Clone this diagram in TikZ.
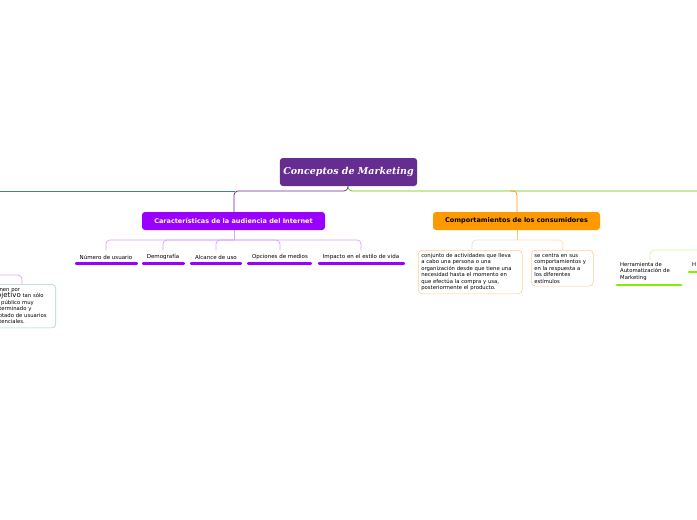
\documentclass[tikz,border=0pt]{standalone}
\usepackage{fontspec}
\setmainfont{DejaVu Sans}
\newfontfamily\titlefont{DejaVu Serif}
\begin{document}
\begin{tikzpicture}[x=1pt,y=-1pt,
  lbl/.style={font=\fontsize{5.5}{6.5}\selectfont,inner sep=0pt},
  ul/.style={line width=2.2pt,line cap=round},
  ln/.style={line width=0.7pt,rounded corners=4pt},
  boxo/.style={draw=orange!40,rounded corners=4pt,fill=white,line width=0.6pt,align=left,text width=#1,font=\fontsize{5.3}{6.5}\selectfont,inner sep=3pt,anchor=north west}]
\useasboundingbox (0,0) rectangle (697,520);
\clip (0,0) rectangle (697,520);
\definecolor{rootc}{HTML}{662D91}
\definecolor{vio}{HTML}{9900FF}
\definecolor{lvio}{HTML}{D9A3FF}
\definecolor{org}{HTML}{FF9900}
\definecolor{grn}{HTML}{80F000}
\definecolor{blu}{HTML}{3C78D8}
% main lines
\draw[line width=1pt,blu] (0,191) -- (235,191);
\draw[ln,rootc!80!violet] (348,186) |- (234,191) -- (234,212);
\draw[ln,grn!80!black] (348,186) |- (697,191);
\draw[ln,org] (510,191) -| (517,212);
% root
\node[fill=rootc,rounded corners=3pt,minimum width=137pt,minimum height=28pt,text=white,font=\titlefont\bfseries\itshape\fontsize{9.5}{11}\selectfont] (root) at (348.5,172) {Conceptos de Marketing};
% purple branch
\node[fill=vio,rounded corners=3pt,minimum width=183pt,minimum height=18pt,text=white,font=\bfseries\fontsize{6.5}{8}\selectfont] (car) at (233.5,221) {Características de la audiencia del Internet};
\draw[ln,lvio] (234,230) -- (234,240);
\draw[ln,lvio] (106,250) |- (361,240) -- (361,250);
\foreach \x in {163,216,280} \draw[ln,lvio] (234,240) -| (\x,250);
\node[lbl] (c1) at (106,257) {Número de usuario};
\node[lbl] (c2) at (163,257) {Demografía};
\node[lbl] (c3) at (216,257) {Alcance de uso};
\node[lbl] (c4) at (280,257) {Opciones de medios};
\node[lbl] (c5) at (361,257) {Impacto en el estilo de vida};
\draw[ul,vio] (76,263.5) -- (137,263.5);
\draw[ul,vio] (143,263.5) -- (184,263.5);
\draw[ul,vio] (191,263.5) -- (241,263.5);
\draw[ul,vio] (248,263.5) -- (311,263.5);
\draw[ul,vio] (319,263.5) -- (404,263.5);
% left partial
\draw[ln,lvio] (0,275) -| (22,284);
\node[draw=teal!35,rounded corners=4pt,fill=white,line width=0.6pt,align=left,text width=60pt,font=\fontsize{5.3}{6.5}\selectfont,inner sep=3pt,anchor=north east] (lb) at (56,284) {tienen por\\ {\fontsize{7}{6.5}\selectfont objetivo} tan sólo\\ un público muy\\ determinado y\\ acotado de usuarios\\ potenciales.};
% orange branch
\node[fill=org,rounded corners=3pt,minimum width=167pt,minimum height=18pt,text=black,font=\bfseries\fontsize{6.5}{8}\selectfont] (comp) at (516.5,221) {Comportamientos de los consumidores};
\draw[ln,org!60] (517,230) -- (517,240);
\draw[ln,gray!25] (472,250) |- (517,240);
\draw[ln,orange!30] (517,240) -| (563,250);
\node[boxo=98pt] (o1) at (418,250) {conjunto de actividades que lleva\\ a cabo una persona o una\\ organización desde que tiene una\\ necesidad hasta el momento en\\ que efectúa la compra y usa,\\ posteriormente el producto.};
\node[boxo=56pt] (o2) at (531,250) {se centra en sus\\ comportamientos y\\ en la respuesta a\\ los diferentes\\ estímulos};
% green branch
\draw[ln,grn!40] (650,260) |- (697,250);
\node[lbl,align=left,anchor=north west,font=\fontsize{5.3}{6.5}\selectfont] (g1) at (620,262) {Herramienta de\\Automatización de\\Marketing};
\draw[ul,grn] (617,285) -- (681,285);
\node[lbl,anchor=west,font=\fontsize{5.3}{6.5}\selectfont] (g2) at (692,265) {H};
\draw[ul,grn] (689,272) -- (699,272);
\end{tikzpicture}
\end{document}
